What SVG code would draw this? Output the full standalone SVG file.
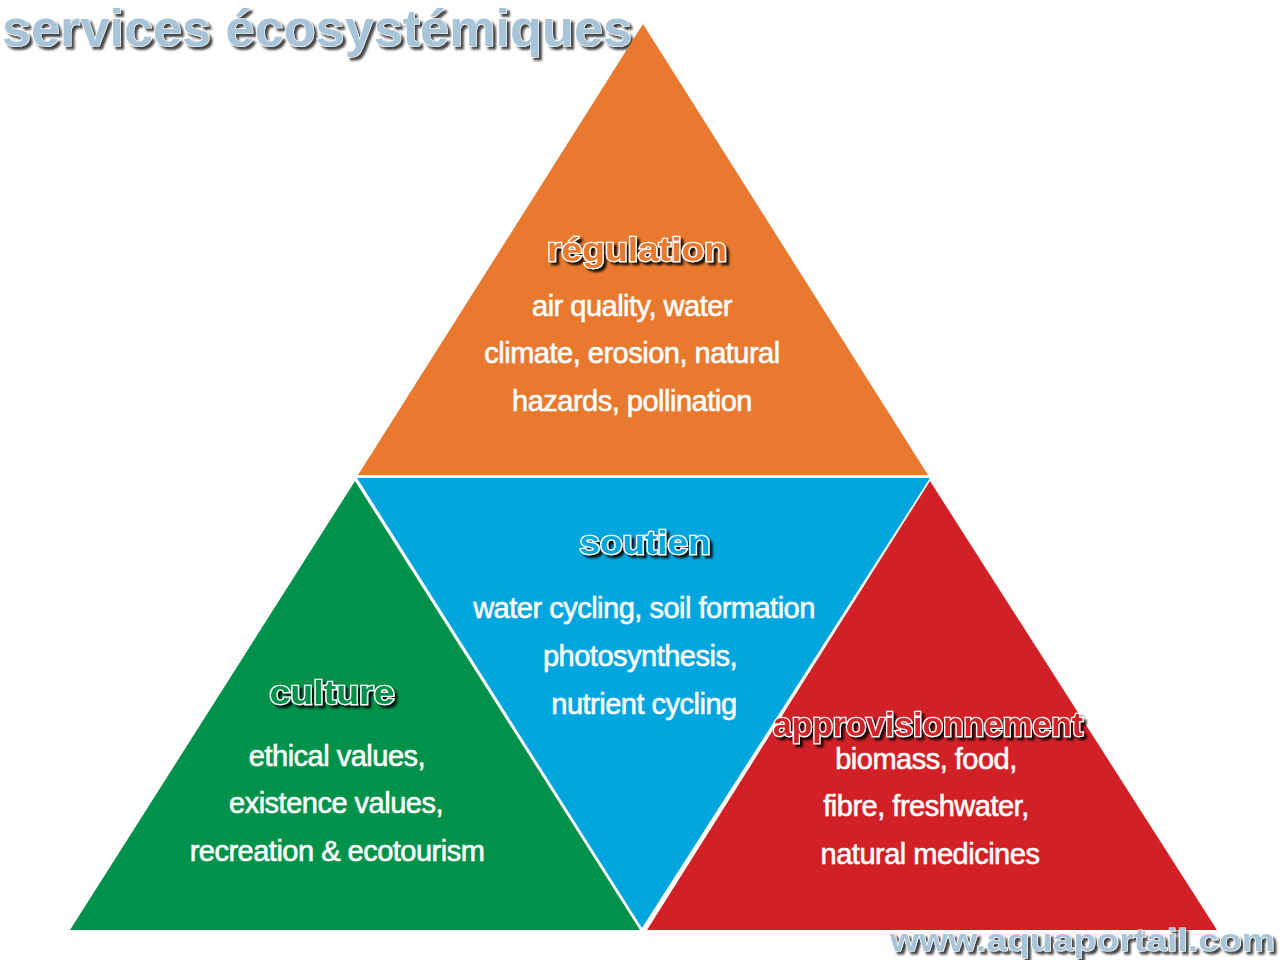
<svg xmlns="http://www.w3.org/2000/svg" width="1280" height="960" viewBox="0 0 1280 960">
<defs>
<filter id="sh" x="-10%" y="-30%" width="130%" height="180%">
<feDropShadow dx="3" dy="3" stdDeviation="1.2" flood-color="#000" flood-opacity="0.85"/>
</filter>
<filter id="tsh" x="-5%" y="-30%" width="115%" height="180%">
<feDropShadow dx="3" dy="3" stdDeviation="1" flood-color="#333" flood-opacity="0.9"/>
</filter>
</defs>
<style>
.body{font-family:"Liberation Sans",Arial,sans-serif;font-size:29px;fill:#fff;stroke:#fff;stroke-width:0.6px;text-anchor:middle;letter-spacing:-0.5px}
.head{font-family:"Liberation Sans",Arial,sans-serif;font-size:33px;font-weight:bold;text-anchor:middle;stroke:#fff;stroke-width:2.5px;paint-order:stroke;filter:url(#sh)}
.title{font-family:"Liberation Sans",Arial,sans-serif;font-weight:bold;fill:#a8c4d9;stroke:#fff;stroke-width:1.2px;paint-order:stroke;filter:url(#tsh)}
</style>
<rect width="1280" height="960" fill="#fff"/>
<text class="title" x="2" y="46" font-size="52" textLength="630" lengthAdjust="spacingAndGlyphs">services écosystémiques</text>
<g id="regulation">
<polygon points="643,24 928,475 358,475" fill="#e8792e"/>
<text class="head" x="637" y="261" fill="#e8792e" textLength="180" lengthAdjust="spacingAndGlyphs">régulation</text>
<text class="body" x="632" y="316">air quality, water</text>
<text class="body" x="632" y="363">climate, erosion, natural</text>
<text class="body" x="632" y="411">hazards, pollination</text>
</g>
<g id="soutien">
<polygon points="357,478 930,478 642,928" fill="#00a6dd"/>
<text class="head" x="645" y="554" fill="#00a6dd" textLength="131" lengthAdjust="spacingAndGlyphs">soutien</text>
<text class="body" x="644" y="618">water cycling, soil formation</text>
<text class="body" x="640" y="666">photosynthesis,</text>
<text class="body" x="644" y="714">nutrient cycling</text>
</g>
<g id="culture">
<polygon points="355,481 640,930 70,930" fill="#00914a"/>
<text class="head" x="332" y="704" fill="#00914a" textLength="125" lengthAdjust="spacingAndGlyphs">culture</text>
<text class="body" x="337" y="766">ethical values,</text>
<text class="body" x="336" y="813">existence values,</text>
<text class="body" x="337" y="861">recreation &amp; ecotourism</text>
</g>
<g id="approvisionnement">
<polygon points="930,481 1217,930 647,930" fill="#d12026"/>
<text class="head" x="928" y="736" fill="#d12026" textLength="310" lengthAdjust="spacingAndGlyphs">approvisionnement</text>
<text class="body" x="926" y="769">biomass, food,</text>
<text class="body" x="926" y="816">fibre, freshwater,</text>
<text class="body" x="930" y="864">natural medicines</text>
</g>
<g id="connectors"/>
<text class="title" x="890" y="951" font-size="32" textLength="385" lengthAdjust="spacingAndGlyphs">www.aquaportail.com</text>
</svg>
